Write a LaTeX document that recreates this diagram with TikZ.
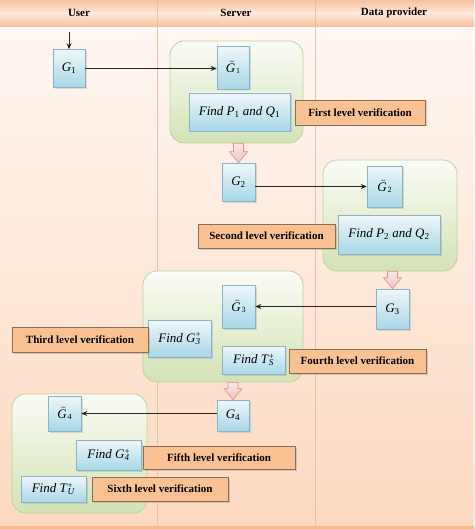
\documentclass[tikz,border=0pt]{standalone}
\usepackage{fontspec}
\setmainfont{Liberation Serif}
\usetikzlibrary{calc,shadows,arrows.meta}
\definecolor{bgtop}{HTML}{FFF7F3}
\definecolor{bgbot}{HTML}{FCD9C0}
\definecolor{hdA}{HTML}{F8C3A0}
\definecolor{hdB}{HTML}{FDE8DA}
\definecolor{colline}{HTML}{EBC0A8}
\definecolor{bluetop}{HTML}{EEF7FA}
\definecolor{bluebot}{HTML}{A8D7E7}
\definecolor{blueline}{HTML}{8CB2C6}
\definecolor{grtop}{HTML}{FBFCF6}
\definecolor{grbot}{HTML}{D3E2B6}
\definecolor{grline}{HTML}{BFD397}
\definecolor{orfill}{HTML}{FAC293}
\definecolor{orline}{HTML}{8A6E55}
\definecolor{pkfill}{HTML}{F2C2C0}
\definecolor{pkline}{HTML}{D9918E}
\newcommand{\gt}[1]{\makebox[0pt][l]{\kern0.3em\raisebox{0.62em}{\fontsize{8}{8}\selectfont\textasciitilde}}\textit{G}\kern0.05em\raisebox{-0.1em}{\fontsize{8}{8}\selectfont #1}}
\newcommand{\gs}[1]{\textit{G}\textsubscript{#1}}
\newcommand{\vs}[3]{\textit{#1}\rlap{\textsuperscript{#2}}\textsubscript{\textit{#3}}}
\tikzset{
  x=1pt,y=-1pt,
  bbox/.style={draw=blueline,line width=0.6pt,top color=bluetop,bottom color=bluebot,
    drop shadow={opacity=0.25,shadow xshift=1.5pt,shadow yshift=-1.5pt},
    inner sep=0pt,font=\fontsize{13}{14}\selectfont},
  grp/.style={draw=grline,line width=0.8pt,top color=grtop,bottom color=grbot,rounded corners=14pt,inner sep=0pt},
  lbl/.style={draw=orline,line width=0.7pt,fill=orfill,
    drop shadow={opacity=0.3,shadow xshift=1.5pt,shadow yshift=-1.5pt},
    inner sep=0pt,font=\fontsize{11}{12}\selectfont\bfseries},
  hdr/.style={font=\fontsize{11}{12}\selectfont\bfseries},
  arr/.style={-{Stealth[length=6pt,width=5pt]},line width=0.8pt,black!85},
  blk/.style={draw=pkline,line width=0.6pt,top color=white!60!pkfill,bottom color=pkfill},
}
\newcommand{\blockarrow}[2]{%
  \draw[blk] ($(#1)+(-5,0)$) -- ($(#2)+(-5,-11)$) -- ($(#2)+(-9,-11)$) -- (#2)
    -- ($(#2)+(9,-11)$) -- ($(#2)+(5,-11)$) -- ($(#1)+(5,0)$) -- cycle;}
\begin{document}
\begin{tikzpicture}
\useasboundingbox (0,0) rectangle (474,529);
% background
\shade[top color=bgtop,bottom color=bgbot] (0,26) rectangle (474,526);
\fill[orfill!90!orange] (0,526) rectangle (474,529);
\shade[top color=hdA,bottom color=hdB] (0,0) rectangle (474,13);
\shade[top color=hdB,bottom color=hdA] (0,13) rectangle (474,26);
\draw[colline,line width=0.8pt] (0,26) -- (474,26);
\draw[colline,line width=0.8pt] (157,0) -- (157,526);
\draw[colline,line width=0.8pt] (315,0) -- (315,526);
\node[hdr] (hU) at (79,13) {User};
\node[hdr] (hS) at (236,13) {Server};
\node[hdr] (hD) at (394,13) {Data provider};
% groups
\node[grp,minimum width=133,minimum height=102] (grp1) at (236.5,92) {};
\node[grp,minimum width=134,minimum height=111] (grp2) at (390,215.5) {};
\node[grp,minimum width=160,minimum height=111] (grp3) at (223,326.5) {};
\node[grp,minimum width=135,minimum height=119] (grp4) at (79.5,453.5) {};
% user start
\coordinate (start) at (69,32);
\node[bbox,minimum width=32,minimum height=38] (G1) at (69,68.5) {\gs{1}};
\node[bbox,minimum width=32,minimum height=43] (Gt1) at (233,67.5) {\gt{1}};
\node[bbox,minimum width=101,minimum height=38] (F1) at (239.5,112) {\textit{Find} \textit{P}\textsubscript{1} \textit{and} \textit{Q}\textsubscript{1}};
\node[lbl,minimum width=130,minimum height=25] (L1) at (360,112.5) {First level verification};
\node[bbox,minimum width=33,minimum height=38] (G2) at (238.5,182) {\gs{2}};
\node[bbox,minimum width=35,minimum height=41] (Gt2) at (384.5,186.5) {\gt{2}};
\node[bbox,minimum width=102,minimum height=39] (F2) at (389,234.5) {\textit{Find} \textit{P}\textsubscript{2} \textit{and} \textit{Q}\textsubscript{2}};
\node[lbl,minimum width=137,minimum height=24] (L2) at (266.5,236) {Second level verification};
\node[bbox,minimum width=33,minimum height=40] (G3) at (392.5,309) {\gs{3}};
\node[bbox,minimum width=33,minimum height=43] (Gt3) at (238.5,306.5) {\gt{3}};
\node[bbox,minimum width=63,minimum height=37] (FG3) at (179.5,338.5) {\textit{Find} \vs{G}{+}{3}};
\node[lbl,minimum width=136,minimum height=25] (L3) at (80,339.5) {Third level verification};
\node[bbox,minimum width=63,minimum height=28] (FTS) at (253.5,360) {\textit{Find} \vs{T}{+}{S}};
\node[lbl,minimum width=137,minimum height=24] (L4) at (357.5,361) {Fourth level verification};
\node[bbox,minimum width=32,minimum height=31] (G4) at (233,415.5) {\gs{4}};
\node[bbox,minimum width=33,minimum height=35] (Gt4) at (64.5,413.5) {\gt{4}};
\node[bbox,minimum width=65,minimum height=30] (FG4) at (108.5,455) {\textit{Find} \vs{G}{+}{4}};
\node[lbl,minimum width=152,minimum height=23] (L5) at (219,457.5) {Fifth level verification};
\node[bbox,minimum width=65,minimum height=26] (FTU) at (53.5,489) {\textit{Find} \vs{T}{+}{U}};
\node[lbl,minimum width=136,minimum height=24] (L6) at (160,489) {Sixth level verification};
% arrows
\draw[arr] (start) -- (G1.north);
\draw[arr] (G1.east) -- (G1.east -| Gt1.west);
\draw[arr] (G2.east |- Gt2.west) -- (Gt2.west);
\draw[arr] (G3.west |- Gt3.east) -- (Gt3.east);
\draw[arr] (G4.west |- Gt4.east) -- (Gt4.east);
\blockarrow{G2.north |- grp1.south}{G2.north}
\blockarrow{G3.north |- grp2.south}{G3.north}
\blockarrow{G4.north |- grp3.south}{G4.north}
\end{tikzpicture}
\end{document}
